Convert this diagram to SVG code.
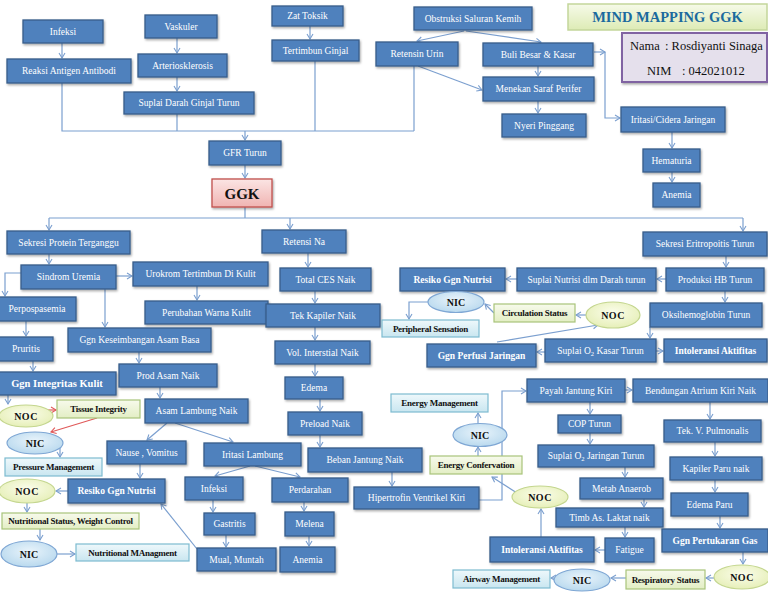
<svg xmlns="http://www.w3.org/2000/svg" width="768" height="594" viewBox="0 0 768 594">
<defs>
<filter id="sh" x="-10%" y="-20%" width="125%" height="150%"><feDropShadow dx="1" dy="1.5" stdDeviation="0.8" flood-color="#000" flood-opacity="0.35"/></filter>
<linearGradient id="gPink" x1="0" y1="0" x2="0" y2="1"><stop offset="0" stop-color="#FBE5E4"/><stop offset="1" stop-color="#F0B4B2"/></linearGradient>
<linearGradient id="gTitle" x1="0" y1="0" x2="0" y2="1"><stop offset="0" stop-color="#F6FAE9"/><stop offset="1" stop-color="#DDEBB5"/></linearGradient>
<linearGradient id="gGreen" x1="0" y1="0" x2="0" y2="1"><stop offset="0" stop-color="#F7FAEC"/><stop offset="1" stop-color="#E3EEC4"/></linearGradient>
<linearGradient id="gLBlue" x1="0" y1="0" x2="0" y2="1"><stop offset="0" stop-color="#EEF8FB"/><stop offset="1" stop-color="#C9E6F0"/></linearGradient>
<radialGradient id="gNic" cx="0.5" cy="0.4" r="0.6"><stop offset="0" stop-color="#E9F4FB"/><stop offset="1" stop-color="#B9D9EE"/></radialGradient>
<radialGradient id="gNoc" cx="0.5" cy="0.4" r="0.6"><stop offset="0" stop-color="#FBFDEB"/><stop offset="1" stop-color="#E6EFB8"/></radialGradient>
<marker id="ar" markerWidth="8" markerHeight="8" refX="6" refY="4" orient="auto" markerUnits="userSpaceOnUse"><path d="M1,1 L6,4 L1,7" fill="none" stroke="#7B9FCF" stroke-width="1.1"/></marker>
<marker id="arR" markerWidth="8" markerHeight="8" refX="6" refY="4" orient="auto" markerUnits="userSpaceOnUse"><path d="M1,1 L6,4 L1,7" fill="none" stroke="#E05A5A" stroke-width="1.1"/></marker>
</defs>
<style>
.b{fill:#4F81BD;stroke:#385D8A;stroke-width:1.3;filter:url(#sh)}
.bt{fill:#fff;font-family:"Liberation Serif",serif;font-size:9.5px;text-anchor:middle}
.bb{fill:#fff;font-family:"Liberation Serif",serif;font-size:9.5px;font-weight:bold;text-anchor:middle}
.g{fill:url(#gGreen);stroke:#A8C47A;stroke-width:1.2}
.lb{fill:url(#gLBlue);stroke:#7DBBD0;stroke-width:1.2}
.lt{fill:#111;font-family:"Liberation Serif",serif;font-size:9px;font-weight:bold;text-anchor:middle;letter-spacing:-0.25px}
.nic{fill:url(#gNic);stroke:#7FA7D4;stroke-width:1.2}
.noc{fill:url(#gNoc);stroke:#C4D68F;stroke-width:1.2}
.et{fill:#111;font-family:"Liberation Serif",serif;font-size:10px;font-weight:bold;text-anchor:middle}
.nm{fill:#111;font-family:"Liberation Serif",serif;font-size:12.5px}
.c path{fill:none;stroke:#7B9FCF;stroke-width:1.2}
.c path.a{marker-end:url(#ar)}
.c path.r{stroke:#E05A5A;marker-end:url(#arR)}
</style>
<rect width="768" height="594" fill="#fff"/>

<g id="connectors" class="c">
<path class="a" d="M62,43 V58"/>
<path class="a" d="M177,38 V53"/>
<path class="a" d="M177,77 V91"/>
<path class="a" d="M310,26 V39"/>
<path class="a" d="M464,31 L417,41"/>
<path class="a" d="M466,31 L541,42"/>
<path class="a" d="M418,66 L482,90"/>
<path class="a" d="M538,66 V76"/>
<path class="a" d="M538,101 V113"/>
<path class="a" d="M594,52 H605"/>
<path class="a" d="M605,52 V118 H620"/>
<path class="a" d="M672,132 V148"/>
<path class="a" d="M672,172 V182"/>
<path d="M62,83 V131 H414"/>
<path d="M177,114 V131"/>
<path d="M315,61 V131"/>
<path d="M414,66 V131"/>
<path class="a" d="M245,131 V140"/>
<path class="a" d="M245,165 V178"/>
<path d="M245,207 V218"/>
<path d="M49,218 H743"/>
<path class="a" d="M49,218 V230"/>
<path class="a" d="M290,218 V229"/>
<path class="a" d="M743,218 V231"/>
<path class="a" d="M49,254 V264"/>
<path class="a" d="M21,273 H5 V296"/>
<path class="a" d="M116,276 H132"/>
<path class="a" d="M197,286 V300"/>
<path class="a" d="M105,289 V327"/>
<path class="a" d="M26,321 V336"/>
<path class="a" d="M33,361 V371"/>
<path class="a" d="M139,352 V363"/>
<path class="a" d="M160,387 V398"/>
<path class="a" d="M167,423 L147,440"/>
<path class="a" d="M175,423 L233,442"/>
<path class="a" d="M250,466 L215,476"/>
<path class="a" d="M255,466 L300,477"/>
<path class="a" d="M213,500 V512"/>
<path class="a" d="M226,535 V547"/>
<path class="a" d="M304,502 V511"/>
<path class="a" d="M309,536 V546"/>
<path class="a" d="M140,464 V478"/>
<path class="a" d="M197,549 L161,504"/>
<path class="a" d="M68,491 H56"/>
<path class="a" d="M27,503 V512"/>
<path class="a" d="M40,529 V540"/>
<path class="a" d="M57,554 H75"/>
<path class="a" d="M8,395 V404"/>
<path class="r" d="M47,410 H56"/>
<path class="r" d="M97,418 L51,432"/>
<path class="a" d="M60,447 V457"/>
<path class="a" d="M308,253 V267"/>
<path class="a" d="M315,291 V303"/>
<path class="a" d="M315,327 V340"/>
<path class="a" d="M315,364 V376"/>
<path class="a" d="M320,399 V411"/>
<path class="a" d="M320,435 V447"/>
<path class="a" d="M392,472 V486"/>
<path class="a" d="M479,500 H502 V391 H526"/>
<path class="a" d="M726,256 V267"/>
<path class="a" d="M666,279 H657"/>
<path class="a" d="M517,279 H506"/>
<path class="a" d="M725,291 V302"/>
<path class="a" d="M650,327 V338"/>
<path class="a" d="M656,351 H663"/>
<path class="a" d="M545,352 H537"/>
<path class="a" d="M497,342 L598,325"/>
<path class="a" d="M586,315 H576"/>
<path class="a" d="M494,313 L485,304"/>
<path class="a" d="M428,302 H409 V319"/>
<path class="a" d="M625,390 H632"/>
<path class="a" d="M590,402 V414"/>
<path class="a" d="M590,433 V444"/>
<path class="a" d="M625,467 V477"/>
<path class="a" d="M644,499 V507"/>
<path class="a" d="M625,527 V537"/>
<path class="a" d="M605,550 H595"/>
<path class="a" d="M541,537 V509"/>
<path class="a" d="M517,493 L492,477"/>
<path class="a" d="M478,456 V447"/>
<path class="a" d="M478,424 V413"/>
<path class="a" d="M710,402 V419"/>
<path class="a" d="M715,442 V456"/>
<path class="a" d="M715,480 V492"/>
<path class="a" d="M720,516 V528"/>
<path class="a" d="M743,552 V564"/>
<path class="a" d="M714,578 H706"/>
<path class="a" d="M626,578 H611"/>
<path class="a" d="M554,578 H551"/>
</g>

<g id="title"><rect x="568" y="4" width="199" height="26" fill="url(#gTitle)" stroke="#C3D69B" stroke-width="1.5"/><text x="667.5" y="22" text-anchor="middle" font-family="Liberation Serif, serif" font-size="14.5" font-weight="bold" fill="#1B6A9E">MIND MAPPING GGK</text></g>
<g id="nama"><rect x="622" y="33" width="145" height="49" fill="#E5E0EC" stroke="#8064A2" stroke-width="2" filter="url(#sh)"/><text class="nm" x="630" y="49.5">Nama</text><text class="nm" x="665" y="49.5">: Rosdiyanti Sinaga</text><text class="nm" x="647" y="75">NIM</text><text class="nm" x="682" y="75">: 042021012</text></g>

<g id="infeksi1"><rect class="b" x="23" y="20" width="80" height="23"/><text class="bt" x="63" y="34.8">Infeksi</text></g>
<g id="reaksi"><rect class="b" x="7" y="59" width="124" height="24"/><text class="bt" x="69" y="74.3">Reaksi Antigen Antibodi</text></g>
<g id="vaskuler"><rect class="b" x="145" y="15" width="72" height="23"/><text class="bt" x="181" y="29.8">Vaskuler</text></g>
<g id="arterio"><rect class="b" x="138" y="54" width="89" height="23"/><text class="bt" x="182.5" y="68.8">Arteriosklerosis</text></g>
<g id="suplaiDarah"><rect class="b" x="124" y="92" width="130" height="22"/><text class="bt" x="189" y="106.3">Suplai Darah Ginjal  Turun</text></g>
<g id="zat"><rect class="b" x="272" y="6" width="71" height="20"/><text class="bt" x="307.5" y="19.3">Zat Toksik</text></g>
<g id="tertimbun"><rect class="b" x="272" y="40" width="87" height="21"/><text class="bt" x="315.5" y="53.8">Tertimbun Ginjal</text></g>
<g id="obstruksi"><rect class="b" x="414" y="7" width="118" height="23"/><text class="bt" x="473" y="21.8">Obstruksi Saluran Kemih</text></g>
<g id="retensinUrin"><rect class="b" x="376" y="42" width="82" height="24"/><text class="bt" x="417" y="57.3">Retensin Urin</text></g>
<g id="buli"><rect class="b" x="483" y="43" width="110" height="23"/><text class="bt" x="538" y="57.8">Buli Besar &amp; Kasar</text></g>
<g id="menekan"><rect class="b" x="483" y="77" width="111" height="24"/><text class="bt" x="538.5" y="92.3">Menekan Saraf Perifer</text></g>
<g id="nyeri"><rect class="b" x="502" y="114" width="84" height="23"/><text class="bt" x="544" y="128.8">Nyeri Pinggang</text></g>
<g id="iritasiCidera"><rect class="b" x="621" y="107" width="104" height="25"/><text class="bt" x="673" y="122.8">Iritasi/Cidera Jaringan</text></g>
<g id="hematuria"><rect class="b" x="643" y="149" width="57" height="23"/><text class="bt" x="671.5" y="163.8">Hematuria</text></g>
<g id="anemia1"><rect class="b" x="653" y="183" width="47" height="24"/><text class="bt" x="676.5" y="198.3">Anemia</text></g>
<g id="gfr"><rect class="b" x="209" y="141" width="72" height="24"/><text class="bt" x="245" y="156.3">GFR Turun</text></g>
<g id="ggk"><rect x="212" y="179" width="60" height="28" fill="url(#gPink)" stroke="#C0504D" stroke-width="1.3" filter="url(#sh)"/><text x="242" y="198.5" text-anchor="middle" font-family="Liberation Serif, serif" font-size="15" font-weight="bold" fill="#111">GGK</text></g>

<g id="sekresiProtein"><rect class="b" x="7" y="231" width="123" height="23"/><text class="bt" x="68.5" y="245.8">Sekresi Protein Terganggu</text></g>
<g id="sindrom"><rect class="b" x="21" y="265" width="95" height="24"/><text class="bt" x="68.5" y="280.3">Sindrom Uremia</text></g>
<g id="perpos"><rect class="b" x="-2" y="297" width="78" height="24"/><text class="bt" x="37" y="312.3">Perpospasemia</text></g>
<g id="pruritis"><rect class="b" x="-2" y="337" width="55" height="24"/><text class="bt" x="26" y="352.3">Pruritis</text></g>
<g id="ggnIntegritas"><rect class="b" x="-2" y="372" width="118" height="23"/><text class="bb" x="57" y="387.2" style="font-size:10.5px">Ggn Integritas Kulit</text></g>
<g id="urokrom"><rect class="b" x="133" y="262" width="135" height="24"/><text class="bt" x="200.5" y="277.3">Urokrom Tertimbun Di Kulit</text></g>
<g id="perubahan"><rect class="b" x="145" y="301" width="123" height="23"/><text class="bt" x="206.5" y="315.8">Perubahan Warna Kulit</text></g>
<g id="ggnKeseimbangan"><rect class="b" x="68" y="328" width="143" height="24"/><text class="bt" x="139.5" y="343.3">Ggn Keseimbangan Asam Basa</text></g>
<g id="prodAsam"><rect class="b" x="119" y="364" width="98" height="23"/><text class="bt" x="168" y="378.8">Prod Asam Naik</text></g>
<g id="asamLambung"><rect class="b" x="145" y="399" width="103" height="24"/><text class="bt" x="196.5" y="414.3">Asam Lambung Naik</text></g>
<g id="nause"><rect class="b" x="107" y="441" width="79" height="23"/><text class="bt" x="146.5" y="455.8">Nause , Vomitus</text></g>
<g id="iritasiLambung"><rect class="b" x="204" y="443" width="97" height="23"/><text class="bt" x="252.5" y="457.8">Iritasi Lambung</text></g>
<g id="infeksi2"><rect class="b" x="185" y="477" width="58" height="23"/><text class="bt" x="214" y="491.8">Infeksi</text></g>
<g id="perdarahan"><rect class="b" x="272" y="478" width="76" height="24"/><text class="bt" x="310" y="493.3">Perdarahan</text></g>
<g id="gastritis"><rect class="b" x="204" y="513" width="51" height="22"/><text class="bt" x="229.5" y="527.3">Gastritis</text></g>
<g id="mual"><rect class="b" x="197" y="548" width="79" height="23"/><text class="bt" x="236.5" y="562.8">Mual, Muntah</text></g>
<g id="melena"><rect class="b" x="285" y="512" width="49" height="24"/><text class="bt" x="309.5" y="527.3">Melena</text></g>
<g id="anemia2"><rect class="b" x="280" y="547" width="55" height="25"/><text class="bt" x="307.5" y="562.8">Anemia</text></g>
<g id="resikoNutrisi1"><rect class="b" x="68" y="479" width="97" height="24"/><text class="bb" x="116.5" y="494.3">Resiko  Ggn Nutrisi</text></g>
<g id="noc1"><ellipse class="noc" cx="26" cy="416" rx="27" ry="11"/><text class="et" x="26" y="419.5" letter-spacing="0.5">NOC</text></g>
<g id="tissue"><rect class="g" x="57" y="400" width="83" height="18"/><text class="lt" x="98.5" y="412">Tissue Integrity</text></g>
<g id="nic1"><ellipse class="nic" cx="35" cy="443" rx="28" ry="11"/><text class="et" x="35" y="446.5">NIC</text></g>
<g id="pressure"><rect class="lb" x="5" y="458" width="97" height="18"/><text class="lt" x="53.5" y="470">Pressure Management</text></g>
<g id="noc2"><ellipse class="noc" cx="27" cy="491" rx="28" ry="12"/><text class="et" x="27" y="494.5" letter-spacing="0.5">NOC</text></g>
<g id="nutStatus"><rect class="g" x="2" y="513" width="137" height="16"/><text class="lt" x="70.5" y="524.2">Nutritional Status, Weight Control</text></g>
<g id="nic2"><ellipse class="nic" cx="29" cy="554" rx="28" ry="13"/><text class="et" x="29" y="557.5">NIC</text></g>
<g id="nutMan"><rect class="lb" x="76" y="544" width="113" height="17"/><text class="lt" x="132.5" y="555.7">Nutritional MAnagment</text></g>

<g id="retensiNa"><rect class="b" x="262" y="230" width="84" height="23"/><text class="bt" x="304" y="244.8">Retensi Na</text></g>
<g id="totalCES"><rect class="b" x="280" y="268" width="91" height="23"/><text class="bt" x="325.5" y="282.8">Total CES Naik</text></g>
<g id="tekKapiler"><rect class="b" x="266" y="304" width="114" height="23"/><text class="bt" x="323" y="318.8">Tek Kapiler Naik</text></g>
<g id="vol"><rect class="b" x="275" y="341" width="95" height="23"/><text class="bt" x="322.5" y="355.8">Vol. Interstial Naik</text></g>
<g id="edema"><rect class="b" x="285" y="377" width="58" height="22"/><text class="bt" x="314" y="391.3">Edema</text></g>
<g id="preload"><rect class="b" x="288" y="412" width="74" height="23"/><text class="bt" x="325" y="426.8">Preload Naik</text></g>
<g id="beban"><rect class="b" x="308" y="448" width="114" height="24"/><text class="bt" x="365" y="463.3">Beban Jantung Naik</text></g>
<g id="hipertrofin"><rect class="b" x="354" y="487" width="125" height="22"/><text class="bt" x="416.5" y="501.3">Hipertrofin Ventrikel Kiri</text></g>

<g id="sekresiEritro"><rect class="b" x="643" y="232" width="124" height="24"/><text class="bt" x="705" y="247.3">Sekresi Eritropoitis  Turun</text></g>
<g id="produksiHB"><rect class="b" x="666" y="268" width="98" height="23"/><text class="bt" x="715" y="282.8">Produksi HB  Turun</text></g>
<g id="suplaiNutrisi"><rect class="b" x="517" y="268" width="139" height="23"/><text class="bt" x="586.5" y="282.8">Suplai Nutrisi dlm Darah turun</text></g>
<g id="resikoNutrisi2"><rect class="b" x="400" y="268" width="105" height="23"/><text class="bb" x="452.5" y="282.8">Resiko  Ggn Nutrisi</text></g>
<g id="oksi"><rect class="b" x="650" y="303" width="112" height="24"/><text class="bt" x="706" y="318.3">Oksihemoglobin  Turun</text></g>
<g id="suplaiO2Kasar"><rect class="b" x="545" y="339" width="111" height="23"/><text class="bt" x="600.5" y="353.8">Suplai O<tspan font-size="6.5" dy="2">2</tspan><tspan dy="-2"> Kasar Turun</tspan></text></g>
<g id="intoleransi1"><rect class="b" x="664" y="339" width="103" height="23"/><text class="bb" x="715.5" y="353.8">Intoleransi Aktifitas</text></g>
<g id="ggnPerfusi"><rect class="b" x="427" y="344" width="109" height="23"/><text class="bb" x="481.5" y="358.8">Ggn Perfusi Jaringan</text></g>
<g id="noc3"><ellipse class="noc" cx="613" cy="315" rx="27" ry="13"/><text class="et" x="613" y="318.5" letter-spacing="0.5">NOC</text></g>
<g id="circulation"><rect class="g" x="494" y="304" width="81" height="18"/><text class="lt" x="534.5" y="316">Circulation Status</text></g>
<g id="nic3"><ellipse class="nic" cx="456" cy="302" rx="28" ry="10.5"/><text class="et" x="456" y="305.5">NIC</text></g>
<g id="peripheral"><rect class="lb" x="382" y="320" width="97" height="17"/><text class="lt" x="430.5" y="331.7">Peripheral Sensation</text></g>

<g id="payah"><rect class="b" x="527" y="379" width="98" height="23"/><text class="bt" x="576" y="393.8">Payah Jantung Kiri</text></g>
<g id="bendungan"><rect class="b" x="633" y="379" width="135" height="23"/><text class="bt" x="700.5" y="393.8">Bendungan Atrium Kiri Naik</text></g>
<g id="cop"><rect class="b" x="558" y="415" width="63" height="18"/><text class="bt" x="589.5" y="427.3">COP Turun</text></g>
<g id="suplaiO2Jar"><rect class="b" x="538" y="445" width="116" height="22"/><text class="bt" x="596" y="459.3">Suplai O<tspan font-size="6.5" dy="2">2</tspan><tspan dy="-2"> Jaringan Turun</tspan></text></g>
<g id="metab"><rect class="b" x="580" y="478" width="83" height="21"/><text class="bt" x="621.5" y="491.8">Metab Anaerob</text></g>
<g id="timb"><rect class="b" x="556" y="508" width="107" height="19"/><text class="bt" x="609.5" y="520.8">Timb As. Laktat naik</text></g>
<g id="fatigue"><rect class="b" x="605" y="538" width="49" height="24"/><text class="bt" x="629.5" y="553.3">Fatigue</text></g>
<g id="intoleransi2"><rect class="b" x="490" y="537" width="104" height="25"/><text class="bb" x="542" y="552.8">Intoleransi Aktifitas</text></g>
<g id="noc4"><ellipse class="noc" cx="540" cy="497" rx="28" ry="11"/><text class="et" x="540" y="500.5" letter-spacing="0.5">NOC</text></g>
<g id="energyConf"><rect class="g" x="430" y="456" width="92" height="18"/><text class="lt" x="476" y="468">Energy Confervation</text></g>
<g id="nic4"><ellipse class="nic" cx="480" cy="435" rx="27" ry="11.5"/><text class="et" x="480" y="438.5">NIC</text></g>
<g id="energyMan"><rect class="lb" x="391" y="394" width="97" height="18"/><text class="lt" x="439.5" y="406">Energy Management</text></g>
<g id="tekV"><rect class="b" x="664" y="420" width="97" height="22"/><text class="bt" x="712.5" y="434.3">Tek. V. Pulmonalis</text></g>
<g id="kapilerParu"><rect class="b" x="670" y="457" width="92" height="23"/><text class="bt" x="716" y="471.8">Kapiler Paru naik</text></g>
<g id="edemaParu"><rect class="b" x="671" y="493" width="77" height="23"/><text class="bt" x="709.5" y="507.8">Edema Paru</text></g>
<g id="ggnPertukaran"><rect class="b" x="662" y="529" width="106" height="23"/><text class="bb" x="715" y="543.8">Ggn Pertukaran Gas</text></g>
<g id="noc5"><ellipse class="noc" cx="742" cy="577" rx="28" ry="12"/><text class="et" x="742" y="580.5" letter-spacing="0.5">NOC</text></g>
<g id="respiratory"><rect class="g" x="626" y="570" width="79" height="19"/><text class="lt" x="665.5" y="582.5">Respiratory Status</text></g>
<g id="nic5"><ellipse class="nic" cx="582" cy="580" rx="28" ry="11"/><text class="et" x="582" y="583.5">NIC</text></g>
<g id="airway"><rect class="lb" x="453" y="570" width="97" height="18"/><text class="lt" x="501.5" y="582">Airway Management</text></g>
</svg>
